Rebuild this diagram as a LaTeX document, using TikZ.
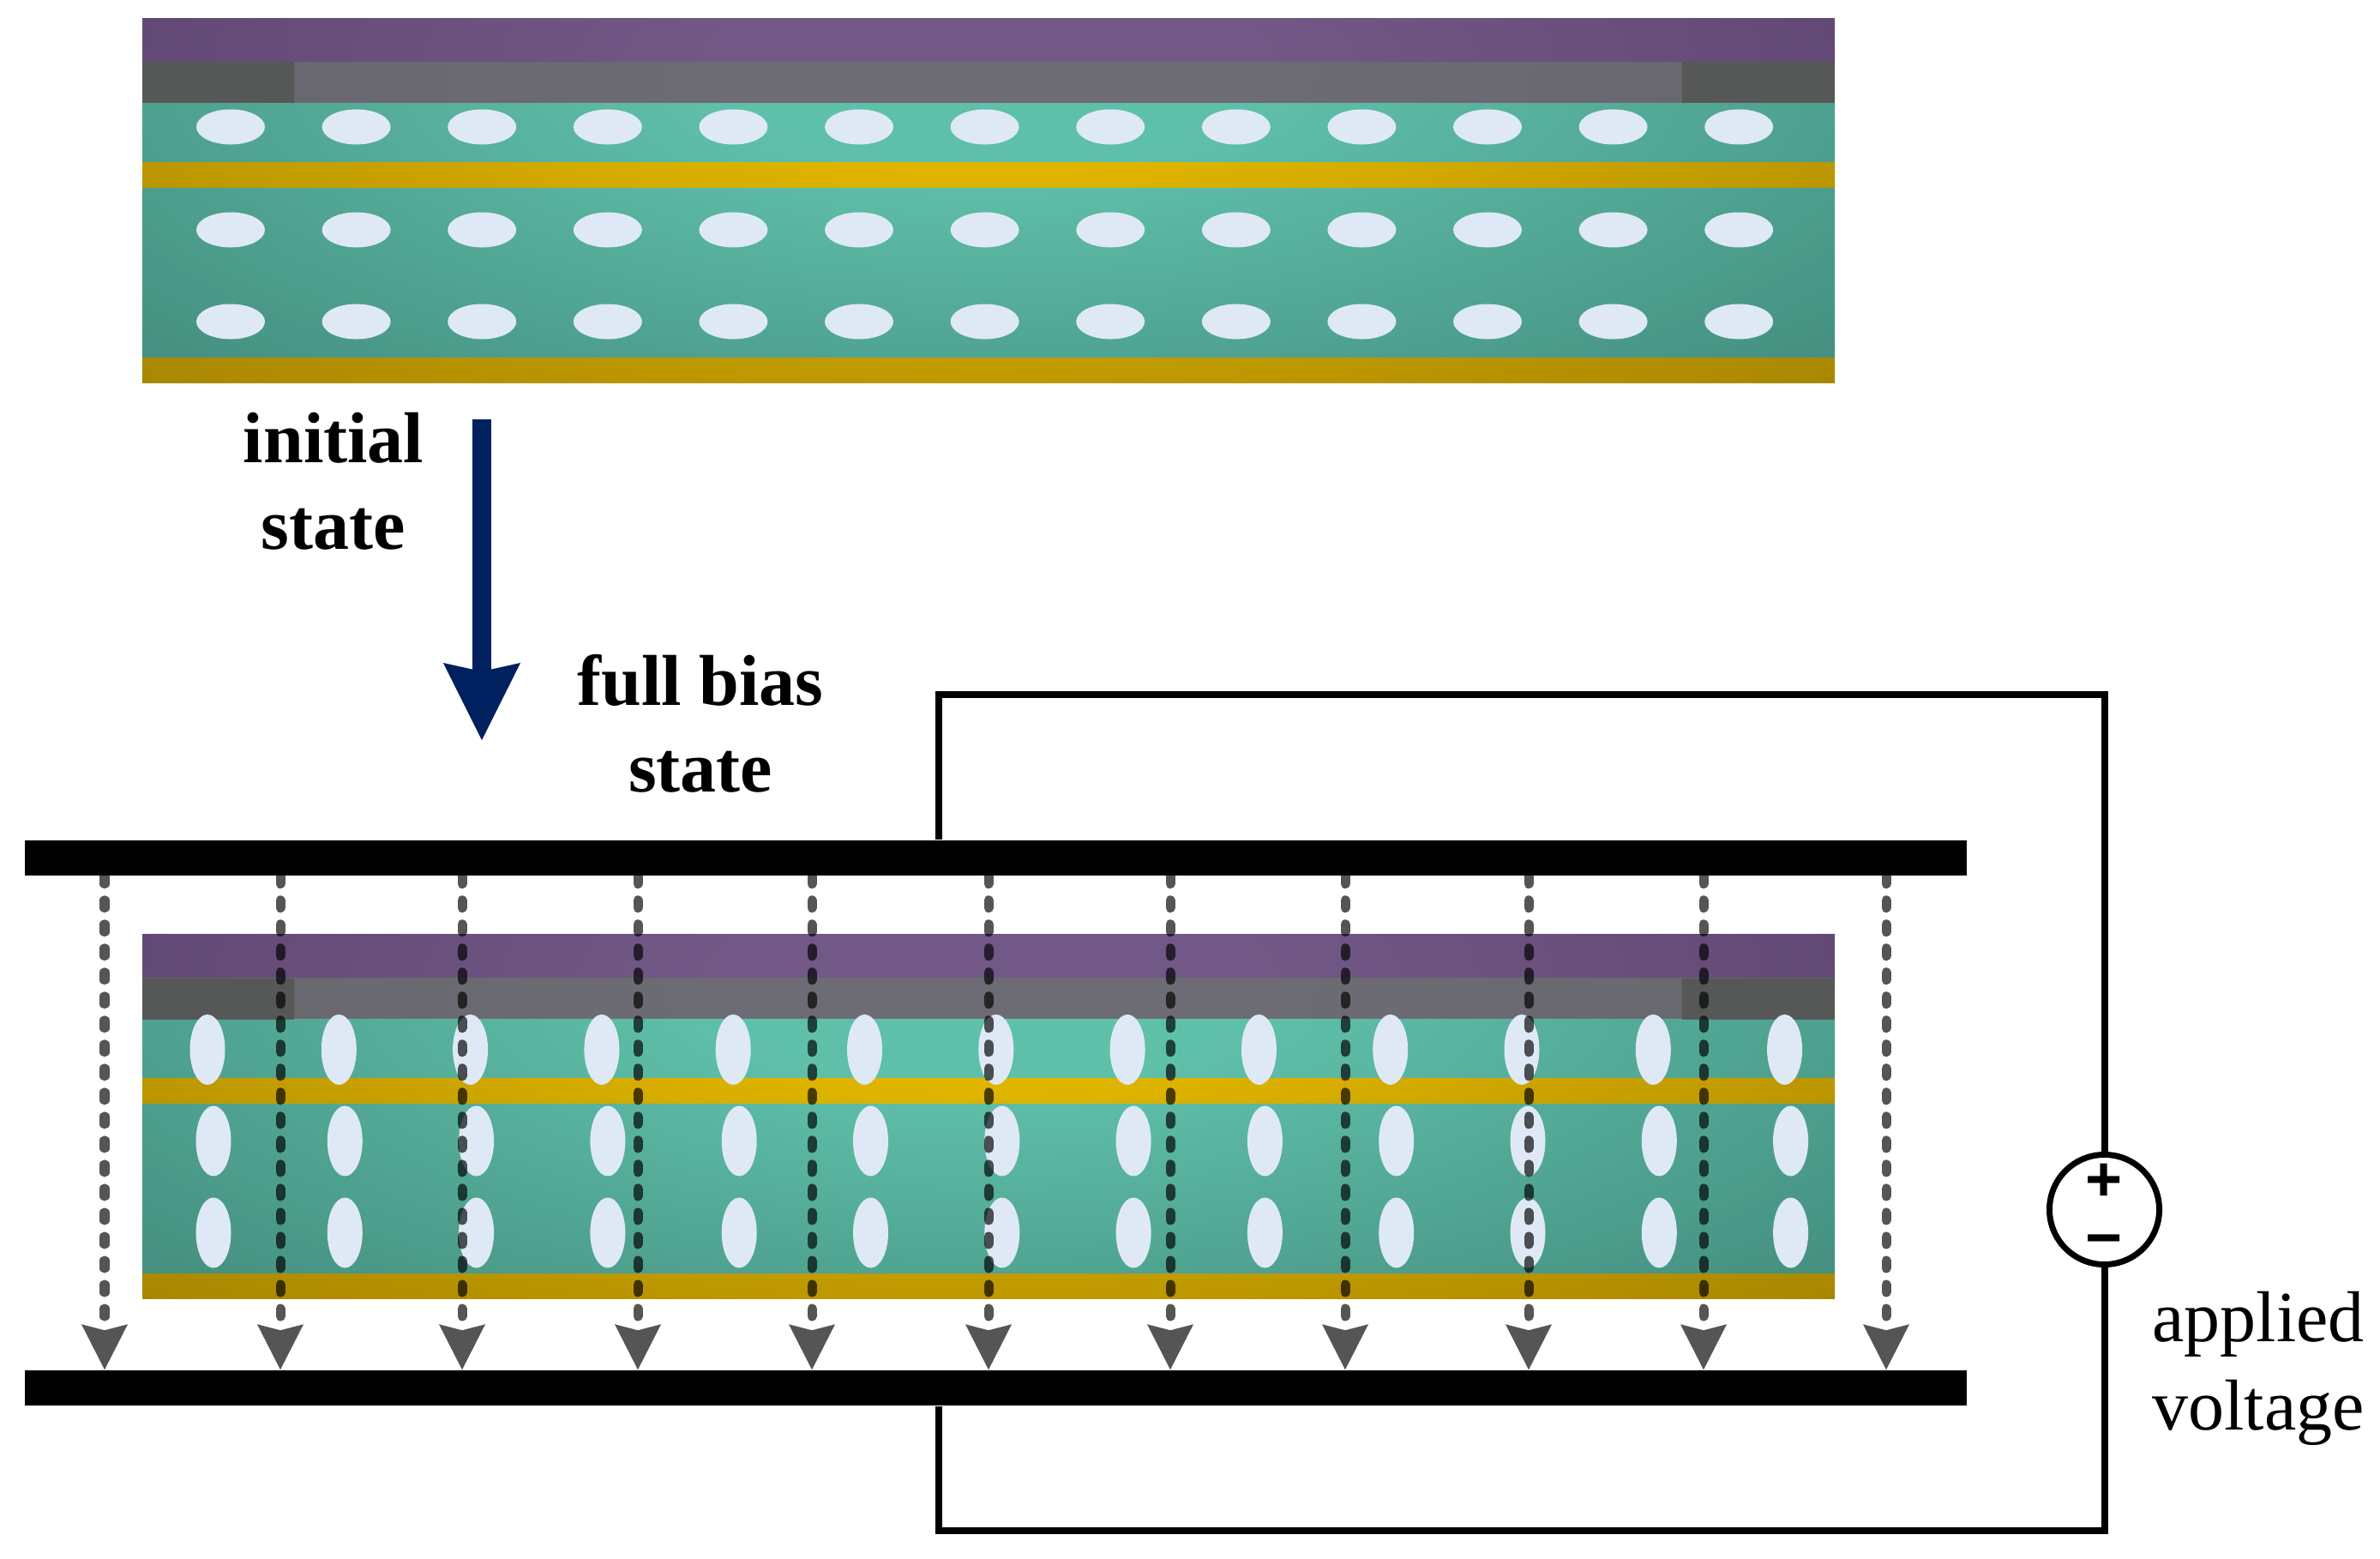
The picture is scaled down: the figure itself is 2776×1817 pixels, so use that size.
\documentclass[tikz,border=0pt]{standalone}
\usepackage{fontspec}
\setmainfont{Liberation Serif}
\newfontfamily\signfont{Liberation Sans}
\usetikzlibrary{arrows.meta, positioning}

\definecolor{tealin}{HTML}{5FC0AA}
\definecolor{tealout}{HTML}{428A7B}
\definecolor{goldin}{HTML}{E0B500}
\definecolor{goldout}{HTML}{A58400}
\definecolor{purplein}{HTML}{725886}
\definecolor{purpleout}{HTML}{573F6A}
\definecolor{grayin}{HTML}{6D6B73}
\definecolor{grayout}{HTML}{65636A}
\definecolor{grayend}{HTML}{565857}
\definecolor{crystal}{HTML}{DEE9F5}
\definecolor{bluearrow}{HTML}{002060}

\pgfdeclareradialshading[bandin,bandout]{bandfade}{\pgfpointorigin}{color(0bp)=(bandin); color(5.5bp)=(bandin); color(25bp)=(bandout); color(50bp)=(bandout)}

\newcommand{\layerband}[4]{
\colorlet{bandin}{#3}
\colorlet{bandout}{#4}
\begin{scope}
\clip (166,#1) rectangle (2140,#2);
\shade[shading=bandfade] (1153,80) ellipse (1450 and 540);
\end{scope}
}

\begin{document}
\begin{tikzpicture}[x=0.01cm, y=-0.01cm, font=\fontsize{23.9}{29.3}\selectfont,
    plate/.style={draw=none, fill=black, rectangle, inner sep=0pt, minimum width=22.63cm, minimum height=0.41cm},
    wire/.style={line width=0.08cm, line join=miter},
    fieldarrow/.style={black, opacity=0.667, line width=0.11cm, line cap=round, dash pattern=on 0.09cm off 0.19cm, -{Stealth[length=0.53cm, width=0.54cm, inset=0.07cm, line width=0pt]}},
    statelabel/.style={align=center, inner sep=0pt, font=\fontsize{23.9}{28.7}\selectfont\bfseries},
    sign/.style={inner sep=0pt, font=\fontsize{21}{21}\selectfont\signfont\bfseries}]

\useasboundingbox (0,0) rectangle (2776,1817);

\foreach \stackshift in {0,1068.5} {
\begin{scope}[shift={(0,\stackshift)}]
\layerband{21}{72}{purplein}{purpleout}
\layerband{72}{120}{grayin}{grayout}
\layerband{120}{189}{tealin}{tealout}
\layerband{189}{219}{goldin}{goldout}
\layerband{219}{417}{tealin}{tealout}
\layerband{417}{446}{goldin}{goldout}
\fill[grayend] (166,72) rectangle (343,120);
\fill[grayend] (1962,72) rectangle (2140,120);
\end{scope}
}

\foreach \i in {0,...,12} {
\fill[crystal] (269+146.6*\i,148) ellipse (40 and 20.5);
\fill[crystal] (269+146.6*\i,268) ellipse (40 and 20.5);
\fill[crystal] (269+146.6*\i,375) ellipse (40 and 20.5);
\fill[crystal] (242+153.3*\i,1224) ellipse (20.5 and 41);
\fill[crystal] (249+153.3*\i,1330.5) ellipse (20.5 and 41);
\fill[crystal] (249+153.3*\i,1437.5) ellipse (20.5 and 41);
}

\node[plate] (topplate) at (1161.5,1000.5) {};
\node[plate] (botplate) at (1161.5,1618.5) {};

\foreach \x [count=\i] in {122,327,539,744,947,1153,1365,1569,1783,1987,2200} {
\coordinate (fieldtop\i) at (\x,1000);
\coordinate (fieldbot\i) at (\x,1000);
\draw[fieldarrow] (fieldtop\i |- topplate.south) -- (fieldbot\i |- botplate.north);
}

\coordinate (arrowtop) at (562,489);
\coordinate (arrowtip) at (562,863);
\draw[line width=0.22cm, bluearrow, -{Stealth[length=0.9cm, width=0.9cm, inset=0.1cm, line width=0pt]}] (arrowtop) -- (arrowtip);

\node[statelabel] (initial) at (389,561.5) {initial\\state};
\node[statelabel] (fullbias) at (817,843.5) {full bias\\state};

\node[draw, circle, line width=0.07cm, inner sep=0pt, minimum size=1.28cm] (source) at (2454.5,1410.5) {};
\node[sign] (plus) at (2454.5,1379) {+};
\node[sign] (minus) at (2454.5,1454) {−};
\node[align=center, inner sep=0pt] (applied) at (2634,1596) {applied\\voltage};

\coordinate (wireA) at (1095,810);
\coordinate (wireB) at (2454.5,810);
\coordinate (wireC) at (2454.5,1785);
\coordinate (wireD) at (1095,1785);
\draw[wire] (wireA |- topplate.north) -- (wireA) -- (wireB) -- (source.north);
\draw[wire] (source.south) -- (wireC) -- (wireD) -- (wireD |- botplate.south);

\end{tikzpicture}
\end{document}
